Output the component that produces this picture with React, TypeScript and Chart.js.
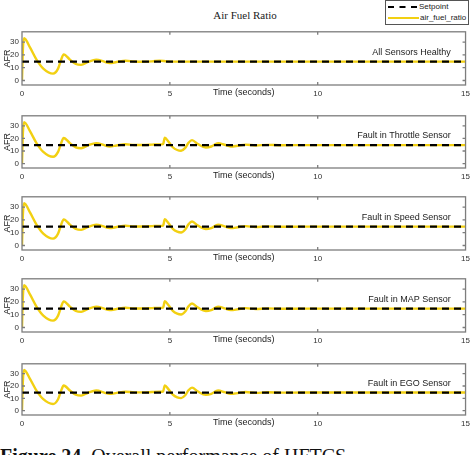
import { useEffect, useRef } from 'react';
import { Chart, registerables } from 'chart.js';

Chart.register(...registerables);

// time axis (seconds) and AFR values
const timeHealthy = [0, 0.03, 0.07, 0.27, 0.49, 0.72, 1.05, 1.22, 1.32, 1.41, 1.62, 1.82, 2.0, 2.23, 2.51, 2.8, 2.96, 3.2, 3.5, 3.8, 4.1, 4.4, 4.65, 4.9, 5.3, 6, 15];
const afrHealthy = [0, 24, 33, 25.8, 16.3, 9.3, 5.4, 9.3, 16, 20.4, 16.3, 12.9, 12.2, 14.5, 16.3, 14.5, 13.6, 14.4, 15.4, 14.8, 14.6, 14.9, 15.5, 14.9, 14.7, 14.7, 14.7];

const timeFault = [0, 0.03, 0.07, 0.27, 0.49, 0.72, 1.05, 1.22, 1.32, 1.41, 1.62, 1.82, 2.0, 2.23, 2.51, 2.8, 2.96, 3.2, 3.5, 3.8, 4.1, 4.4, 4.65, 4.77, 4.83, 4.95, 5.1, 5.25, 5.38, 5.52, 5.63, 5.75, 5.95, 6.22, 6.4, 6.63, 6.85, 7.06, 7.3, 7.56, 7.9, 8.3, 8.8, 9.5, 15];
const afrFault = [0, 24, 33, 25.8, 16.3, 9.3, 5.4, 9.3, 16, 20.4, 16.3, 12.9, 12.2, 14.5, 16.3, 14.5, 13.6, 14.4, 15.4, 14.8, 14.8, 15.1, 15.3, 15.5, 20.5, 17.5, 13, 10.8, 10.2, 12.5, 16.5, 18.7, 15.5, 12.8, 13.6, 16.3, 15, 13.6, 14.2, 15.1, 14.4, 14.9, 14.6, 14.7, 14.7];

const setpointTimes = [0, 15];
const setpointValue = 14.7;

const xTicks = [0, 5, 10, 15];
const yTicks = [0, 10, 20, 30];

const panelLabels = [
  'All Sensors Healthy',
  'Fault in Throttle Sensor',
  'Fault in Speed Sensor',
  'Fault in MAP Sensor',
  'Fault in EGO Sensor',
];

// pixel placement of each panel's plot box
const panelTops = [25, 109, 190, 272, 357];
const panelBottoms = [85, 168, 250, 332, 415];

const SANS = '"Liberation Sans", Arial, sans-serif';
const SERIF = '"Liberation Serif", "Times New Roman", serif';
const YELLOW = '#f2d012';

function decor(label: string) {
  return {
    id: 'decor',
    afterDraw(chart: any) {
      const { ctx, chartArea: a, scales } = chart;
      ctx.save();
      ctx.strokeStyle = '#7d7d7d';
      ctx.lineWidth = 1.3;
      ctx.strokeRect(a.left, a.top, a.right - a.left, a.bottom - a.top);
      ctx.beginPath();
      for (const v of [5, 10]) {
        const px = scales.x.getPixelForValue(v);
        ctx.moveTo(px, a.top);
        ctx.lineTo(px, a.top + 3);
        ctx.moveTo(px, a.bottom);
        ctx.lineTo(px, a.bottom - 3);
      }
      for (const v of yTicks) {
        const py = scales.y.getPixelForValue(v);
        ctx.moveTo(a.left, py);
        ctx.lineTo(a.left + 3, py);
        ctx.moveTo(a.right, py);
        ctx.lineTo(a.right - 3, py);
      }
      ctx.stroke();

      ctx.fillStyle = '#222';
      ctx.font = `9px ${SANS}`;
      ctx.textBaseline = 'middle';
      ctx.textAlign = 'right';
      ctx.fillText(label, scales.x.getPixelForValue(14.5), scales.y.getPixelForValue(22));
      ctx.textAlign = 'center';
      ctx.fillText('Time (seconds)', scales.x.getPixelForValue(7.5), a.bottom + 8);
      ctx.restore();
    },
  };
}

function Panel({ index, times, values }: { index: number; times: number[]; values: number[] }) {
  const ref = useRef<HTMLCanvasElement>(null);
  const top = panelTops[index] - 1;
  const height = panelBottoms[index] - panelTops[index] + 16;

  useEffect(() => {
    if (!ref.current) return;
    const chart = new Chart(ref.current, {
      type: 'line',
      data: {
        datasets: [
          {
            label: 'Setpoint',
            data: setpointTimes.map(t => ({ x: t, y: setpointValue })),
            borderColor: '#000',
            borderWidth: 2.2,
            borderDash: [7, 5],
            pointRadius: 0,
          },
          {
            label: 'air_fuel_ratio',
            data: times.map((t, i) => ({ x: t, y: values[i] })),
            borderColor: YELLOW,
            borderWidth: 2.4,
            pointRadius: 0,
            cubicInterpolationMode: 'monotone',
          },
        ],
      },
      options: {
        animation: false,
        responsive: false,
        layout: { padding: { top: 1, right: 6, left: 0, bottom: 0 } },
        plugins: { legend: { display: false }, tooltip: { enabled: false } },
        scales: {
          x: {
            type: 'linear',
            min: 0,
            max: 15,
            afterBuildTicks: (s: any) => { s.ticks = xTicks.map(v => ({ value: v })); },
            afterFit: (s: any) => { s.height = 15; },
            grid: { display: false, drawTicks: false },
            border: { display: false },
            ticks: { font: { size: 8, family: SANS }, color: '#333', padding: 4, maxRotation: 0, autoSkip: false },
          },
          y: {
            min: -3.5,
            max: 38,
            afterBuildTicks: (s: any) => { s.ticks = yTicks.map(v => ({ value: v })); },
            afterFit: (s: any) => { s.width = 22; },
            grid: { display: false, drawTicks: false },
            border: { display: false },
            ticks: { font: { size: 8, family: SANS }, color: '#333', padding: 3 },
            title: { display: true, text: 'AFR', font: { size: 9, family: SANS }, color: '#222', padding: { top: 2, bottom: 0 } },
          },
        },
      } as any,
      plugins: [decor(panelLabels[index])],
    });
    return () => chart.destroy();
  }, []);

  return (
    <canvas
      ref={ref}
      width={474}
      height={height}
      style={{ position: 'absolute', left: 0, top, width: 474, height }}
    />
  );
}

export default function App() {
  return (
    <div style={{ position: 'absolute', left: 0, top: 0, width: 474, height: 455, overflow: 'hidden', background: '#fff' }}>
      <div style={{ position: 'absolute', left: 0, width: 490, top: 9, textAlign: 'center', font: `11px ${SERIF}`, color: '#222' }}>
        Air Fuel Ratio
      </div>
      <div style={{ position: 'absolute', left: 385, top: 0, width: 82, height: 23, border: '1px solid #555', background: '#fff', font: `8px ${SANS}`, color: '#222' }}>
        <div style={{ position: 'absolute', left: 2, top: 5, width: 29, borderTop: '2px dashed #000' }} />
        <div style={{ position: 'absolute', left: 33, top: 1, lineHeight: '10px' }}>Setpoint</div>
        <div style={{ position: 'absolute', left: 2, top: 16, width: 31, borderTop: `2px solid ${YELLOW}` }} />
        <div style={{ position: 'absolute', left: 34, top: 12, lineHeight: '10px' }}>air_fuel_ratio</div>
      </div>
      <Panel index={0} times={timeHealthy} values={afrHealthy} />
      <Panel index={1} times={timeFault} values={afrFault} />
      <Panel index={2} times={timeFault} values={afrFault} />
      <Panel index={3} times={timeFault} values={afrFault} />
      <Panel index={4} times={timeFault} values={afrFault} />
      <div style={{ position: 'absolute', left: 0, top: 446, whiteSpace: 'nowrap', font: `20px ${SERIF}`, color: '#111', lineHeight: '20px' }}>
        <b>Figure 24.</b> Overall performance of HFTCS.
      </div>
    </div>
  );
}
